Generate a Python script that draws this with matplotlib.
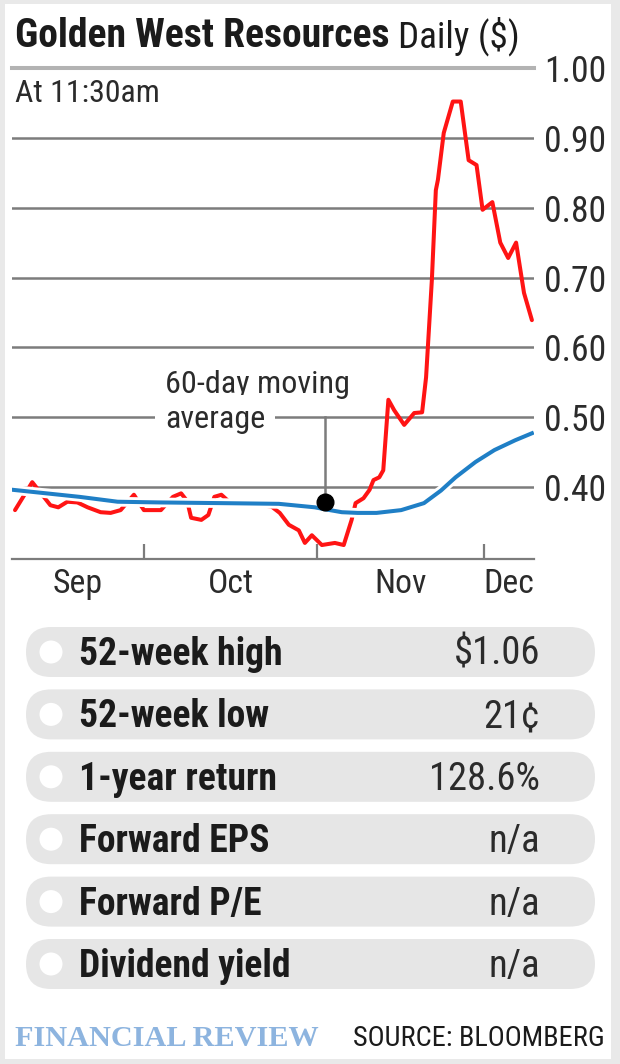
import matplotlib
matplotlib.use("Agg")
import matplotlib.pyplot as plt
import matplotlib.dates as mdates
import matplotlib.font_manager as fm
import matplotlib.patheffects as pe
from matplotlib.patches import FancyBboxPatch, Circle, Rectangle
import pandas as pd

# ---------------- data ----------------
title = "Golden West Resources"
subtitle = "Daily ($)"
timestamp = "At 11:30am"

price_dates = [
    "2010-09-07 22:00", "2010-09-11 00:00", "2010-09-14 06:00", "2010-09-15 16:00",
    "2010-09-17 07:00", "2010-09-19 02:00", "2010-09-20 22:00", "2010-09-23 06:00",
    "2010-09-25 01:00", "2010-09-26 20:00", "2010-09-29 05:00", "2010-10-01 00:00",
    "2010-10-04 01:00", "2010-10-06 05:00", "2010-10-07 16:00", "2010-10-08 18:00",
    "2010-10-09 11:00", "2010-10-11 07:00", "2010-10-12 13:00", "2010-10-13 15:00",
    "2010-10-14 21:00", "2010-10-16 03:00", "2010-10-18 12:00", "2010-10-21 05:00",
    "2010-10-23 21:00", "2010-10-25 08:00", "2010-10-26 23:00", "2010-10-28 18:00",
    "2010-10-29 20:00", "2010-10-31 02:00", "2010-11-01 21:00", "2010-11-04 05:00",
    "2010-11-05 19:00", "2010-11-07 05:00", "2010-11-07 22:00", "2010-11-09 08:00",
    "2010-11-10 10:00", "2010-11-11 03:00", "2010-11-12 04:00", "2010-11-12 21:00",
    "2010-11-13 19:00", "2010-11-14 20:00", "2010-11-16 15:00", "2010-11-18 10:00",
    "2010-11-19 20:00", "2010-11-20 13:00", "2010-11-21 14:00", "2010-11-22 07:00",
    "2010-11-22 16:00", "2010-11-23 17:00", "2010-11-25 08:00", "2010-11-26 18:00",
    "2010-11-28 04:00", "2010-11-29 14:00", "2010-11-30 16:00", "2010-12-02 10:00",
    "2010-12-03 20:00", "2010-12-05 06:00", "2010-12-06 16:00", "2010-12-08 02:00",
    "2010-12-09 12:00",
]
price_values = [
    0.367, 0.407, 0.374, 0.371,
    0.379, 0.378, 0.371, 0.364,
    0.363, 0.367, 0.389, 0.367,
    0.367, 0.386, 0.391, 0.380,
    0.356, 0.353, 0.360, 0.386,
    0.389, 0.380, 0.376, 0.375,
    0.372, 0.363, 0.346, 0.338,
    0.320, 0.331, 0.317, 0.320,
    0.317, 0.353, 0.377, 0.384,
    0.396, 0.410, 0.414, 0.424,
    0.525, 0.510, 0.489, 0.506,
    0.507, 0.557, 0.697, 0.825,
    0.840, 0.907, 0.952, 0.952,
    0.868, 0.861, 0.797, 0.808,
    0.750, 0.728, 0.750, 0.678,
    0.639,
]

ma_dates = [
    "2010-09-07 14:00", "2010-09-19 11:00", "2010-09-26 07:00", "2010-10-03 17:00",
    "2010-10-14 21:00", "2010-10-25 04:00", "2010-10-31 15:00", "2010-11-02 14:00",
    "2010-11-05 11:00", "2010-11-08 07:00", "2010-11-11 16:00", "2010-11-16 02:00",
    "2010-11-20 04:00", "2010-11-23 05:00", "2010-11-25 20:00", "2010-11-29 10:00",
    "2010-12-02 19:00", "2010-12-06 12:00", "2010-12-09 12:00",
]
ma_values = [
    0.396, 0.386, 0.379, 0.378,
    0.377, 0.376, 0.371, 0.368,
    0.364, 0.363, 0.363, 0.367,
    0.377, 0.395, 0.414, 0.436,
    0.453, 0.467, 0.477,
]

y_ticks = [0.40, 0.50, 0.60, 0.70, 0.80, 0.90, 1.00]
month_starts = ["2010-09-01", "2010-10-01", "2010-11-01", "2010-12-01", "2011-01-01"]
month_labels = ["Sep", "Oct", "Nov", "Dec"]
x_range = ["2010-09-07 09:00", "2010-12-09 21:00"]
y_range = [0.297, 1.0]

ma_label = ["60-day moving", "average"]
ma_label_date = "2010-10-04 19:00"
ma_label_values = [0.5347, 0.4845]
ma_marker_date = "2010-11-02 10:00"
ma_marker_value = 0.378

stat_labels = ["52-week high", "52-week low", "1-year return",
               "Forward EPS", "Forward P/E", "Dividend yield"]
stat_values = ["$1.06", "21\u00a2", "128.6%", "n/a", "n/a", "n/a"]

source = "SOURCE: BLOOMBERG"
brand = "FINANCIAL REVIEW"

# ---------------- fonts ----------------
names = {f.name for f in fm.fontManager.ttflist}
family, stretch = None, "normal"
for cand in ["Liberation Sans Narrow", "Arial Narrow", "Roboto Condensed",
             "Open Sans Condensed", "Noto Sans Condensed", "DejaVu Sans Condensed"]:
    if cand in names:
        family = cand
        break
if family is None:
    for f in fm.fontManager.ttflist:
        if f.name == "DejaVu Sans" and str(f.stretch) in ("condensed", "semi-condensed"):
            family, stretch = "DejaVu Sans", "condensed"
            break
if family is None:
    family = "Liberation Sans"
plt.rcParams["font.family"] = [family, "DejaVu Sans"]
plt.rcParams["font.stretch"] = stretch

RED = "#ff1414"
BLUE = "#1f7fc6"
GRID = "#7c7c7c"
DARK = "#1b1b1b"
TXT = "#2b2b2b"

# ---------------- figure ----------------
fig = plt.figure(figsize=(6.2, 10.64), dpi=100, facecolor="#e9e9e9")
bg = fig.add_axes([0, 0, 1, 1], zorder=0)
bg.set_xlim(0, 620)
bg.set_ylim(1064, 0)
bg.axis("off")
bg.add_patch(Rectangle((5, 4), 606, 1055, fc="white", ec="none"))

t_title = bg.text(15, 47, title, fontsize=28, fontweight="bold", color=DARK,
                  ha="left", va="baseline")
t_sub = bg.text(398, 47, subtitle, fontsize=28, color=DARK, ha="left", va="baseline")
t_time = bg.text(15, 102, timestamp, fontsize=22, color=TXT, ha="left", va="baseline")

# ---------------- chart ----------------
ax = fig.add_axes([12 / 620, 1 - 559 / 1064, 522 / 620, 491 / 1064], zorder=1)
ax.patch.set_visible(False)
x0, x1 = mdates.date2num(pd.to_datetime(x_range))
ax.set_xlim(x0, x1)
ax.set_ylim(*y_range)
for s in ["top", "left", "right"]:
    ax.spines[s].set_visible(False)
ax.spines["bottom"].set_color(GRID)
ax.spines["bottom"].set_linewidth(1.6)

ax.set_yticks(y_ticks)
ax.set_yticklabels([f"{v:.2f}" for v in y_ticks])
ax.yaxis.tick_right()
ax.tick_params(axis="y", length=0, pad=7.5, labelsize=27, labelcolor=TXT)

for v in y_ticks[:-1]:
    ax.axhline(v, color=GRID, lw=1.8, zorder=1)
ax.axhline(y_ticks[-1], color="#b3b3b3", lw=2.9, zorder=1, clip_on=False)

month_nums = mdates.date2num(pd.to_datetime(month_starts))
ax.set_xticks([m for m in month_nums if x0 < m < x1])
ax.tick_params(axis="x", direction="in", length=11, width=1.6, color=GRID,
               labelbottom=False)
month_texts = []
for lab, a, b in zip(month_labels, month_nums[:-1], month_nums[1:]):
    c = (max(a, x0) + min(b, x1)) / 2
    month_texts.append(ax.text(c, -0.0692, lab, transform=ax.get_xaxis_transform(),
                               ha="center", va="baseline", fontsize=24, color=TXT))

ax.plot(pd.to_datetime(price_dates), price_values, color=RED, lw=2.9, zorder=3,
        solid_joinstyle="round", solid_capstyle="round")
ax.plot(pd.to_datetime(ma_dates), ma_values, color=BLUE, lw=2.9, zorder=4,
        solid_joinstyle="round",
        path_effects=[pe.Stroke(linewidth=7, foreground="white"), pe.Normal()])

md = mdates.date2num(pd.Timestamp(ma_marker_date))
ax.plot([md], [ma_marker_value], "o", ms=16.5, mfc="white", mec="white", zorder=2.5)
ax.plot([md, md], [ma_marker_value, y_ticks[1]], color=GRID, lw=1.8, zorder=2.7)
ax.plot([md], [ma_marker_value], "o", ms=12, color="black", zorder=5)

lx = mdates.date2num(pd.Timestamp(ma_label_date))
ann1 = ax.text(lx, ma_label_values[0], ma_label[0], fontsize=23, color=TXT,
               ha="left", va="baseline", zorder=6)
ann2 = ax.text(lx, ma_label_values[1], ma_label[1], fontsize=23, color=TXT,
               ha="left", va="baseline", zorder=6,
               bbox=dict(boxstyle="square,pad=0.3", fc="white", ec="none"))

# ---------------- stats table ----------------
lab_texts, val_texts = [], []
for i, (lab, val) in enumerate(zip(stat_labels, stat_values)):
    top = 627 + i * 62.4
    bg.add_patch(FancyBboxPatch((26, top), 569, 50,
                                boxstyle="round,pad=0,rounding_size=25",
                                fc="#e6e6e6", ec="none"))
    bg.add_patch(Circle((51, top + 25), 11.5, fc="white", ec="none"))
    lab_texts.append(bg.text(79, top + 38, lab, fontsize=28, fontweight="bold",
                             color=DARK, ha="left", va="baseline"))
    val_texts.append(bg.text(540, top + 38, val, fontsize=28, color=TXT,
                             ha="right", va="baseline"))

t_brand = bg.text(15, 1046, brand, fontsize=22, fontweight="bold",
                  family=["Liberation Serif", "DejaVu Serif"], color="#8db4df",
                  ha="left", va="baseline")
t_source = bg.text(605, 1046, source, fontsize=19.5, color=DARK,
                   ha="right", va="baseline")

# ---------------- fit text widths to the reference ----------------
fig.canvas.draw()
r = fig.canvas.get_renderer()


def fit(group, target, lo=0.75, hi=1.3):
    w = group[0].get_window_extent(r).width
    k = min(max(target / w, lo), hi)
    for t in group:
        t.set_fontsize(t.get_fontsize() * k)


fit([t_title], 375)
fit([t_sub], 122)
fit([t_time], 145)
fit(lab_texts, 204)
fit([val_texts[2]] + val_texts[:2] + val_texts[3:], 111)
fit([t_brand], 303)
fit([t_source], 253)
fit([ann1, ann2], 186)
fit(month_texts, 50)

lbl = [t for t in ax.get_yticklabels() if t.get_text() == "0.90"][0]
w = lbl.get_window_extent(r).width
ax.tick_params(axis="y", labelsize=27 * min(max(62 / w, 0.75), 1.3))

fig.savefig("out.png", dpi=100, facecolor=fig.get_facecolor())
